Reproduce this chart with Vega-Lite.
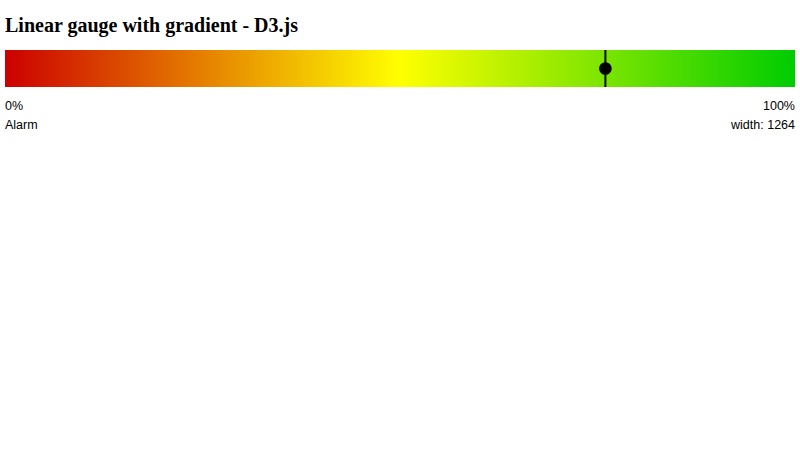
{
  "$schema": "https://vega.github.io/schema/vega-lite/v6.json",
  "description": "Linear gauge with red-yellow-green gradient and a value marker.",
  "autosize": {"type": "none"},
  "padding": {"left": 5, "right": 5, "top": 50, "bottom": 0},
  "width": 790,
  "height": 85,
  "title": {
    "text": "Linear gauge with gradient - D3.js",
    "anchor": "start",
    "frame": "group",
    "font": "Liberation Serif",
    "fontSize": 20,
    "fontWeight": "bold",
    "color": "#000",
    "baseline": "alphabetic",
    "offset": -3
  },
  "datasets": {
    "bar": [{"start": 0, "end": 100, "top": 0, "bottom": 37}],
    "marker": [{"value": 76, "top": 0, "bottom": 37, "mid": 18.5}],
    "leftText": [
      {"label": "0%", "pos": 0, "line": 59.5},
      {"label": "Alarm", "pos": 0, "line": 78.5}
    ],
    "rightText": [
      {"label": "100%", "pos": 100, "line": 59.5},
      {"label": "width: 1264", "pos": 100, "line": 78.5}
    ]
  },
  "layer": [
    {
      "data": {"name": "bar"},
      "mark": {
        "type": "rect",
        "color": {
          "gradient": "linear",
          "x1": 0, "x2": 1, "y1": 0, "y2": 0,
          "stops": [
            {"offset": 0, "color": "#cc0000"},
            {"offset": 0.5, "color": "#ffff00"},
            {"offset": 1, "color": "#00cc00"}
          ]
        }
      },
      "encoding": {
        "x": {"field": "start", "type": "quantitative", "scale": {"domain": [0, 100], "nice": false, "zero": false}, "axis": null},
        "x2": {"field": "end"},
        "y": {"field": "top", "type": "quantitative", "scale": {"domain": [0, 85], "nice": false, "zero": false, "reverse": true}, "axis": null},
        "y2": {"field": "bottom"}
      }
    },
    {
      "data": {"name": "marker"},
      "mark": {"type": "rule", "color": "#000", "strokeWidth": 2},
      "encoding": {
        "x": {"field": "value", "type": "quantitative"},
        "y": {"field": "top", "type": "quantitative"},
        "y2": {"field": "bottom"}
      }
    },
    {
      "data": {"name": "marker"},
      "mark": {"type": "circle", "color": "#000", "opacity": 1, "size": 160},
      "encoding": {
        "x": {"field": "value", "type": "quantitative"},
        "y": {"field": "mid", "type": "quantitative"}
      }
    },
    {
      "data": {"name": "leftText"},
      "mark": {"type": "text", "align": "left", "baseline": "alphabetic", "font": "Liberation Sans", "fontSize": 12.5, "color": "#000"},
      "encoding": {
        "x": {"field": "pos", "type": "quantitative"},
        "y": {"field": "line", "type": "quantitative"},
        "text": {"field": "label"}
      }
    },
    {
      "data": {"name": "rightText"},
      "mark": {"type": "text", "align": "right", "baseline": "alphabetic", "font": "Liberation Sans", "fontSize": 12.5, "color": "#000"},
      "encoding": {
        "x": {"field": "pos", "type": "quantitative"},
        "y": {"field": "line", "type": "quantitative"},
        "text": {"field": "label"}
      }
    }
  ],
  "config": {"view": {"stroke": null}}
}
